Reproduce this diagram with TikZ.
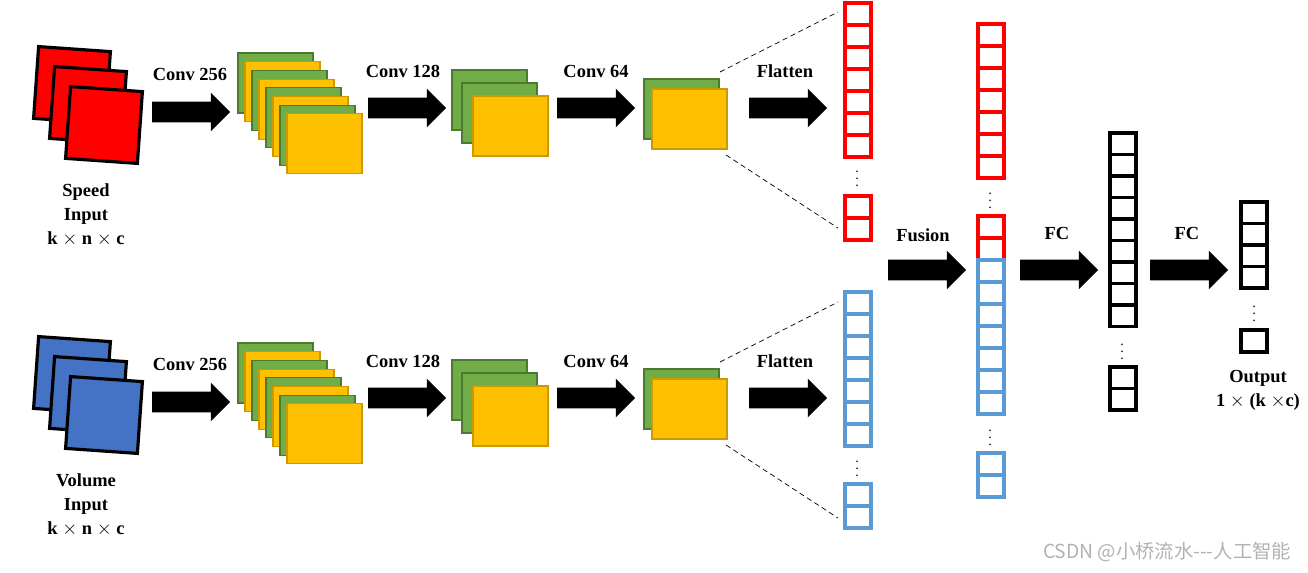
\documentclass[tikz,border=0pt]{standalone}
\usepackage{fontspec}
\setmainfont{Liberation Serif}
\newfontfamily\cjk{Noto Sans CJK SC}
\usetikzlibrary{shapes.arrows}
\definecolor{inred}{RGB}{255,0,0}
\definecolor{inblue}{RGB}{68,114,196}
\definecolor{cellblue}{RGB}{91,155,213}
\definecolor{mapgreen}{RGB}{112,173,71}
\definecolor{mapyellow}{RGB}{255,192,0}
\tikzset{
	lbl/.style={font=\bfseries\fontsize{10.5}{12.5}\selectfont},
	dots/.style={inner sep=0pt,font=\footnotesize},
	bigarrow/.style={single arrow,fill=black,draw=none,inner xsep=0pt,inner ysep=0.2cm,
		minimum height=1.56cm,minimum width=0.76cm,single arrow head extend=0.18cm},
	green map/.style={fill=mapgreen,draw=mapgreen!70!black,line width=0.6pt},
	yellow map/.style={fill=mapyellow,draw=mapyellow!80!black,line width=0.6pt},
	cell/.style={line width=2pt}
}
\newcommand{\fmap}[4]{% x, y, style, name
	\path[#3] (#1,#2) rectangle ++(75,60);
	\coordinate (#4) at (#1,#2);}
\newcommand{\cells}[5]{% x, y, count, colour, height
	\foreach \k in {1,...,#3}
		\draw[cell,#4] (#1,{#2+(\k-1)*#5}) rectangle ++(26,#5);}
\begin{document}
\begin{tikzpicture}[x=0.02cm,y=-0.02cm]
	\useasboundingbox (0,0) rectangle (1308,572);

	% two input streams
	\foreach \dy/\col/\name in {0/inred/Speed,290/inblue/Volume} {
		\foreach \i in {0,1,2}
			\node[draw=black,line width=1.8pt,fill=\col,minimum size=1.44cm,rotate=-4]
				(in\name\i) at ({72+16*\i},{85+\dy+20*\i}) {};
		\node[lbl,align=center] (lab\name) at (86,{215+\dy}) {\name\\[1pt]Input\\[1pt]k $\times$ n $\times$ c};

		\node[bigarrow] (a\name1) at (186,{112+\dy}) {};
		\node[lbl] (c\name1) at (190,{74+\dy}) {Conv 256};
		\foreach \i in {0,...,7} {
			\ifodd\i \fmap{238+7*\i}{53+\dy+8.7*\i}{yellow map}{m\name\i}
			\else \fmap{238+7*\i}{53+\dy+8.7*\i}{green map}{m\name\i}\fi
		}

		\node[bigarrow] (a\name2) at (402,{108+\dy}) {};
		\node[lbl] (c\name2) at (403,{71+\dy}) {Conv 128};
		\fmap{452}{70+\dy}{green map}{n\name0}
		\fmap{462}{83+\dy}{green map}{n\name1}
		\fmap{473}{96+\dy}{yellow map}{n\name2}

		\node[bigarrow] (a\name3) at (591,{108+\dy}) {};
		\node[lbl] (c\name3) at (596,{71+\dy}) {Conv 64};
		\fmap{644}{79+\dy}{green map}{p\name0}
		\fmap{652}{89+\dy}{yellow map}{p\name1}

		\node[bigarrow] (a\name4) at (783,{108+\dy}) {};
		\node[lbl] (c\name4) at (785,{71+\dy}) {Flatten};
		\coordinate (dA\name) at (720,{72+\dy});
		\coordinate (dB\name) at (838,{12+\dy});
		\coordinate (dC\name) at (726,{155+\dy});
		\coordinate (dD\name) at (838,{228+\dy});
		\draw[densely dashed] (dA\name) -- (dB\name);
		\draw[densely dashed] (dC\name) -- (dD\name);
	}

	% flattened vectors
	\cells{845}{3}{7}{inred}{22}
	\node[dots] (dotsR) at (857,174) {$\vdots$};
	\cells{845}{196}{2}{inred}{22}
	\cells{845}{292}{7}{cellblue}{22}
	\node[dots] (dotsB) at (857,464) {$\vdots$};
	\cells{845}{484}{2}{cellblue}{22}

	% fusion
	\node[bigarrow] (fuse) at (922,270) {};
	\node[lbl] (fuseLab) at (923,235) {Fusion};
	\cells{978}{24}{7}{inred}{22}
	\node[dots] (dotsF1) at (990,196) {$\vdots$};
	\cells{978}{216}{2}{inred}{22}
	\cells{978}{260}{7}{cellblue}{22}
	\node[dots] (dotsF2) at (990,433) {$\vdots$};
	\cells{978}{453}{2}{cellblue}{22}

	% fully connected
	\node[bigarrow] (fc1) at (1054,270) {};
	\node[lbl] (fc1Lab) at (1057,233) {FC};
	\cells{1110}{133}{9}{black}{21.5}
	\node[dots] (dotsH) at (1122,347) {$\vdots$};
	\cells{1110}{367}{2}{black}{21.5}

	\node[bigarrow] (fc2) at (1184,270) {};
	\node[lbl] (fc2Lab) at (1187,233) {FC};
	\cells{1241}{202}{4}{black}{21.5}
	\node[dots] (dotsO) at (1254,309) {$\vdots$};
	\cells{1241}{330}{1}{black}{22}
	\node[lbl,align=center] (out) at (1258,390) {Output\\[1pt]1 $\times$ (k $\times$c)};

	\node[text=gray!60,font=\cjk\fontsize{11}{13}\selectfont] (mark) at (1167,552) {CSDN @小桥流水---人工智能};
\end{tikzpicture}
\end{document}
